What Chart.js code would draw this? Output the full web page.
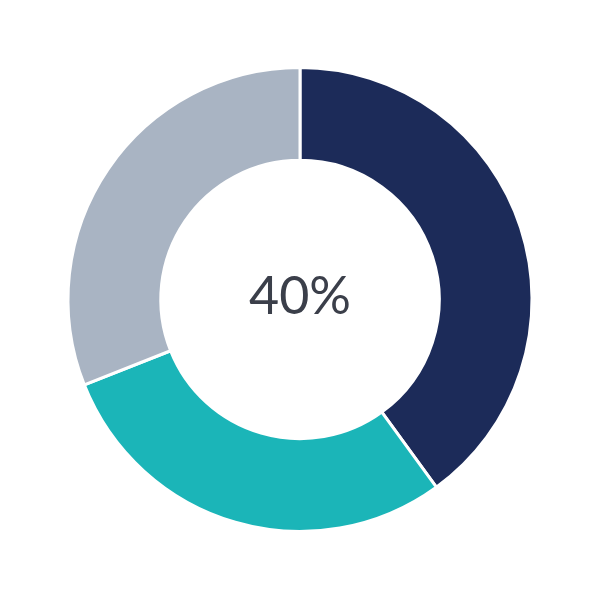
<!DOCTYPE html>
<html>
<head>
<meta charset="utf-8">
<script src="https://cdn.jsdelivr.net/npm/chart.js@4"></script>
<style>
html,body{margin:0;padding:0;background:#fff;}
#wrap{position:relative;width:600px;height:599px;}
#label{position:absolute;left:0;top:-6px;width:600px;height:599px;display:flex;align-items:center;justify-content:center;font-family:Lato,"Open Sans",sans-serif;font-size:52px;color:#3b3f4a;pointer-events:none;}
</style>
</head>
<body>
<div id="wrap">
<canvas id="c" width="600" height="599"></canvas>
<div id="label">40%</div>
</div>
<script>
const categories = ["Segment A", "Segment B", "Segment C"];
const values = [40, 29, 31];
const colors = ["#1c2b59", "#1bb5b8", "#a9b4c3"];

new Chart(document.getElementById('c'), {
  type: 'doughnut',
  data: {
    labels: categories,
    datasets: [{
      data: values,
      backgroundColor: colors,
      borderColor: '#ffffff',
      borderWidth: 3
    }]
  },
  options: {
    responsive: false,
    animation: false,
    cutout: '60%',
    layout: { padding: 66 },
    plugins: { legend: { display: false }, tooltip: { enabled: false } }
  }
});
</script>
</body>
</html>
